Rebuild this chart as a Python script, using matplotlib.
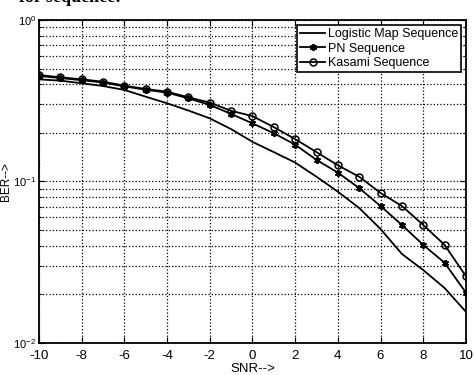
"""BER vs SNR for logistic map, PN and Kasami spreading sequences"""

import numpy as np
import matplotlib.pyplot as plt
from matplotlib.ticker import LogLocator, NullFormatter

snr = list(range(-10, 11))

# values
ber_logistic = [0.429, 0.421, 0.406, 0.390, 0.369, 0.335, 0.305, 0.275, 0.246, 0.211, 0.176,
                0.152, 0.131, 0.107, 0.0865, 0.0685, 0.0508, 0.0356, 0.0283, 0.0219, 0.0156]
ber_pn = [0.450, 0.437, 0.424, 0.410, 0.388, 0.370, 0.355, 0.327, 0.298, 0.262, 0.229,
          0.199, 0.169, 0.136, 0.1135, 0.091, 0.0705, 0.0538, 0.0405, 0.0314, 0.0205]
ber_kasami = [0.456, 0.442, 0.429, 0.415, 0.392, 0.374, 0.360, 0.332, 0.308, 0.274, 0.254,
              0.217, 0.183, 0.152, 0.126, 0.107, 0.0849, 0.0705, 0.0538, 0.0405, 0.0259]

labels = ['Logistic Map Sequence', 'PN Sequence', 'Kasami Sequence']

plt.rcParams['font.family'] = ['Liberation Sans', 'DejaVu Sans']
plt.rcParams['axes.unicode_minus'] = False   # plain hyphen like the original
plt.rcParams['mathtext.fontset'] = 'custom'  # exponents in the same face
plt.rcParams['mathtext.rm'] = 'Liberation Sans'
plt.rcParams['mathtext.it'] = 'Liberation Sans:italic'

fig = plt.figure(figsize=(4.74, 3.75), dpi=100)
ax = fig.add_axes([0.0823, 0.0853, 0.9007, 0.8614])

ax.semilogy(snr, ber_logistic, '-', color='black', lw=1.3, label=labels[0])
ax.semilogy(snr, ber_pn, '-', color='black', lw=1.3, marker=(6, 2, 0),
            ms=5, mew=1.3, label=labels[1])
ax.semilogy(snr, ber_kasami, '-', color='black', lw=1.3, marker='o', ms=5,
            mfc='none', mew=1.1, label=labels[2])

ax.set_xlim(-10, 10)
ax.set_ylim(1e-2, 1)
ax.set_xticks(range(-10, 11, 2))
ax.yaxis.set_major_locator(LogLocator(base=10))
ax.yaxis.set_minor_locator(LogLocator(base=10, subs=np.arange(2, 10)))
ax.yaxis.set_minor_formatter(NullFormatter())
ax.tick_params(which='both', direction='in', top=True, right=True)
ax.tick_params(which='major', length=4)
ax.tick_params(which='minor', length=2)
ax.tick_params(axis='x', labelsize=9.5, pad=5)
ax.tick_params(axis='y', labelsize=8, pad=2)
ax.grid(True, which='major', axis='x', linestyle=':', color='black', lw=0.9)
ax.grid(True, which='both', axis='y', linestyle=':', color='black', lw=0.9)
for s in ax.spines.values():
    s.set_linewidth(1.3)

ax.set_xlabel('SNR-->', fontsize=9.5, labelpad=1)
ax.set_ylabel('BER-->', fontsize=8.5)
ax.yaxis.set_label_coords(-0.063, 0.5)

leg = ax.legend(loc='upper right', fontsize=9, fancybox=False, framealpha=1,
                edgecolor='black', borderaxespad=0.4, handlelength=2.0,
                handletextpad=0.2, labelspacing=0.2, borderpad=0.25)
leg.get_frame().set_linewidth(1.2)

# caption of the page above, mostly cut off
fig.text(0.04, 0.995, 'for sequence:', fontsize=13, family='Liberation Serif',
         weight='bold', va='baseline')

fig.savefig('out.png', dpi=100)
